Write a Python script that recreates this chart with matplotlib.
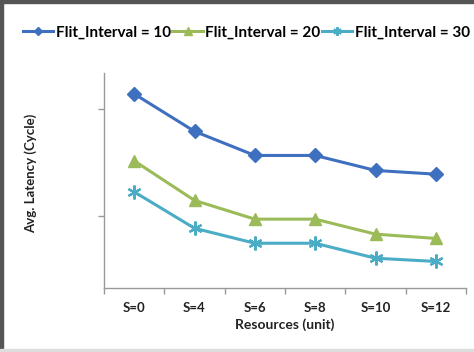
import matplotlib.pyplot as plt
from matplotlib.patches import Rectangle

# Daten (Einheiten ohne Beschriftung)
kategorien = ['S=0', 'S=4', 'S=6', 'S=8', 'S=10', 'S=12']
latenz_10 = [42.8, 35.8, 31.3, 31.3, 28.5, 27.8]
latenz_20 = [30.3, 22.9, 19.4, 19.4, 16.6, 15.8]
latenz_30 = [24.5, 17.7, 14.9, 14.9, 12.1, 11.5]
y_ticks = [20, 40]

plt.rcParams['font.family'] = ['Lato', 'DejaVu Sans']

fig = plt.figure(figsize=(4.74, 3.52), dpi=100)
ax = fig.add_axes([104 / 474, 1 - 288 / 352, 362 / 474, 215 / 352])

x = range(len(kategorien))
ax.plot(x, latenz_10, color='#3f6fbf', lw=2.2, marker='D', ms=7,
        label='Flit_Interval = 10')
ax.plot(x, latenz_20, color='#9bbb59', lw=2.2, marker='^', ms=9,
        label='Flit_Interval = 20')
ax.plot(x, latenz_30, color='#4bacc6', lw=2.2, marker=(6, 2, 0), ms=10,
        mew=1.6, label='Flit_Interval = 30')

ax.set_xlim(-0.5, 5.5)
ax.set_ylim(6.54, 46.7)
ax.set_yticks(y_ticks)
ax.set_yticklabels([])
ax.set_xticks(list(x))
ax.set_xticklabels(kategorien, fontweight='bold', fontsize=9.5, color='#222222')
ax.set_xticks([k - 0.5 for k in range(len(kategorien) + 1)], minor=True)
ax.tick_params(axis='x', which='major', length=0, pad=10)
ax.tick_params(axis='x', which='minor', length=4, color='#999999', width=1)
ax.tick_params(axis='y', length=4, color='#999999', width=1)

for s in ['top', 'right']:
    ax.spines[s].set_visible(False)
for s in ['left', 'bottom']:
    ax.spines[s].set_color('#999999')
    ax.spines[s].set_linewidth(1)

ax.set_xlabel('Resources (unit)', fontweight='bold', fontsize=10,
              color='#222222', labelpad=3)
ax.set_ylabel('Avg. Latency (Cycle)', fontweight='bold', fontsize=9.5,
              color='#222222')
ax.yaxis.set_label_coords(-0.185, 0.535)

fig.legend(loc='upper left', bbox_to_anchor=(9 / 474, 1 - 12 / 352), ncol=3,
           frameon=False, prop={'weight': 'bold', 'size': 11},
           handlelength=2.0, handletextpad=0.15, columnspacing=0.1,
           markerscale=0.6)

# Rahmen wie im Original
fig.patches.append(Rectangle((0, 0), 3 / 474, 1, transform=fig.transFigure,
                             color='#555555', zorder=10))
fig.patches.append(Rectangle((0, 1 - 3 / 352), 1, 3 / 352, transform=fig.transFigure,
                             color='#555555', zorder=10))
fig.patches.append(Rectangle((0, 0), 1, 3 / 352, transform=fig.transFigure,
                             color='#dddddd', zorder=10))

fig.savefig('out.png', dpi=100)
